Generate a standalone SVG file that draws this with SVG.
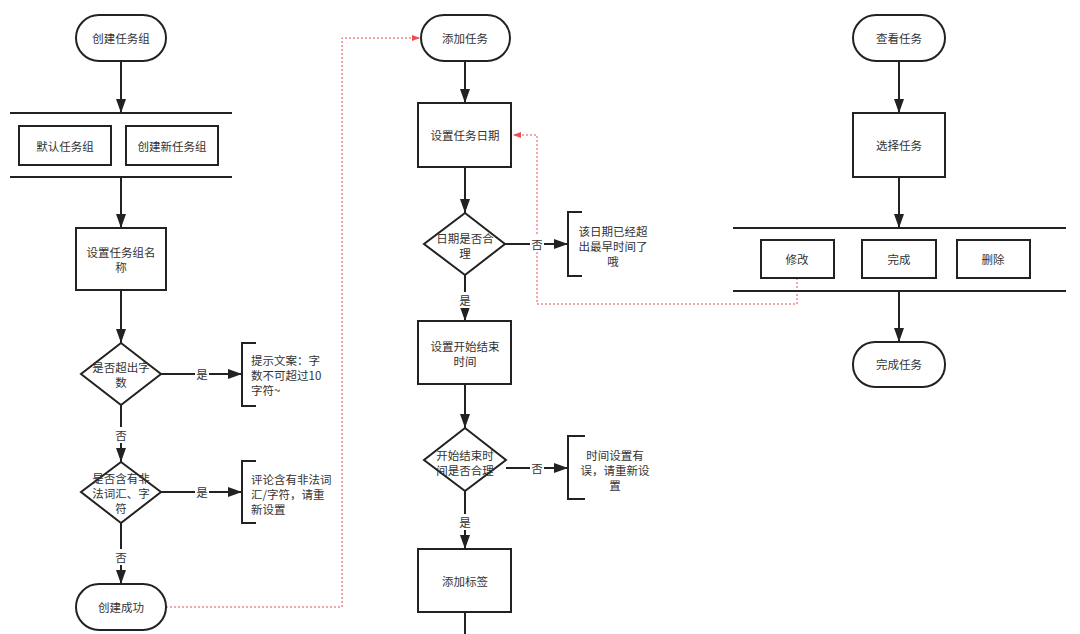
<svg xmlns="http://www.w3.org/2000/svg" width="1080" height="634" viewBox="0 0 1080 634">
<defs>
<marker id="ah" viewBox="0 0 14 10" refX="14" refY="5" markerWidth="14" markerHeight="10" markerUnits="userSpaceOnUse" orient="auto">
<path d="M0,0 L14,5 L0,10 z" fill="#222"/>
</marker>
<marker id="rh" viewBox="0 0 8 6" refX="8" refY="3" markerWidth="8" markerHeight="6" markerUnits="userSpaceOnUse" orient="auto">
<path d="M0,0 L8,3 L0,6 z" fill="#e8222a"/>
</marker>
<style>
.n{fill:#fff;stroke:#222;stroke-width:2}
.t{font-family:"Noto Sans CJK SC","Noto Sans",sans-serif;font-size:11.5px;fill:#333;text-anchor:middle;dominant-baseline:central}
.tl{font-family:"Noto Sans CJK SC","Noto Sans",sans-serif;font-size:11.5px;fill:#333;text-anchor:start;dominant-baseline:central}
.c{fill:none;stroke:#222;stroke-width:2}
.a{fill:none;stroke:#222;stroke-width:2;marker-end:url(#ah)}
.r{fill:none;stroke:#e8222a;stroke-width:1;stroke-dasharray:2 2;opacity:0.8}
.lb{fill:#fff}
.sep{stroke:#222;stroke-width:2}
</style>
</defs>
<rect width="1080" height="634" fill="#fff"/>

<g id="connectors">
<line class="a" x1="121" y1="61" x2="121" y2="113"/>
<line class="a" x1="121" y1="177" x2="121" y2="228"/>
<line class="a" x1="121" y1="290" x2="121" y2="343"/>
<line class="a" x1="161" y1="374" x2="242" y2="374"/>
<line class="a" x1="121" y1="405" x2="121" y2="462"/>
<line class="a" x1="161" y1="492" x2="242" y2="492"/>
<line class="a" x1="121" y1="523" x2="121" y2="584"/>
<path class="r" d="M166,607 H342 V38 H420" marker-end="url(#rh)"/>
<line class="a" x1="465" y1="61" x2="465" y2="103"/>
<line class="a" x1="465" y1="167" x2="465" y2="213"/>
<line class="a" x1="505" y1="244" x2="568" y2="244"/>
<line class="a" x1="465" y1="275" x2="465" y2="321"/>
<line class="a" x1="465" y1="384" x2="465" y2="428"/>
<line class="a" x1="506" y1="468" x2="568" y2="468"/>
<line class="a" x1="465" y1="491" x2="465" y2="549"/>
<line class="c" x1="465" y1="612" x2="465" y2="634"/>
<path class="r" d="M797,278 V304 H537 V135 H513" marker-end="url(#rh)"/>
<line class="a" x1="899" y1="61" x2="899" y2="113"/>
<line class="a" x1="899" y1="177" x2="899" y2="228"/>
<line class="a" x1="899" y1="291" x2="899" y2="342"/>
<!-- edge labels -->
<rect class="lb" x="195" y="366" width="14" height="16"/><text class="t" x="202" y="374">是</text>
<rect class="lb" x="114" y="427" width="14" height="16"/><text class="t" x="121" y="435">否</text>
<rect class="lb" x="195" y="484" width="14" height="16"/><text class="t" x="202" y="492">是</text>
<rect class="lb" x="114" y="549" width="14" height="16"/><text class="t" x="121" y="557">否</text>
<rect class="lb" x="530" y="236" width="14" height="16"/><text class="t" x="537" y="244">否</text>
<rect class="lb" x="458" y="292" width="14" height="16"/><text class="t" x="465" y="300">是</text>
<rect class="lb" x="530" y="460" width="14" height="16"/><text class="t" x="537" y="468">否</text>
<rect class="lb" x="458" y="514" width="14" height="16"/><text class="t" x="465" y="522">是</text>
</g>

<g id="n-create-group">
<rect class="n" x="76" y="15" width="90" height="46" rx="23"/>
<text class="t" x="121" y="38">创建任务组</text>
</g>
<g id="sep-left">
<line class="sep" x1="10" y1="113" x2="232" y2="113"/>
<line class="sep" x1="10" y1="177" x2="232" y2="177"/>
</g>
<g id="n-default-group">
<rect class="n" x="19" y="126" width="92" height="39"/>
<text class="t" x="65" y="146">默认任务组</text>
</g>
<g id="n-new-group">
<rect class="n" x="126" y="126" width="92" height="39"/>
<text class="t" x="172" y="146">创建新任务组</text>
</g>
<g id="n-set-name">
<rect class="n" x="76" y="228" width="90" height="62"/>
<text class="t" x="121" y="252">设置任务组名</text>
<text class="t" x="121" y="267">称</text>
</g>
<g id="n-over-length">
<path class="n" d="M121,343 L161,374 L121,405 L81,374 z"/>
<text class="t" x="121" y="367">是否超出字</text>
<text class="t" x="121" y="382">数</text>
</g>
<g id="n-tip-length">
<path class="c" d="M256,343 H242 V406 H256"/>
<text class="tl" x="251" y="360">提示文案：字</text>
<text class="tl" x="251" y="375">数不可超过10</text>
<text class="tl" x="251" y="390">字符~</text>
</g>
<g id="n-illegal">
<path class="n" d="M121,462 L161,492 L121,523 L81,492 z"/>
<text class="t" x="121" y="478">是否含有非</text>
<text class="t" x="121" y="493">法词汇、字</text>
<text class="t" x="121" y="508">符</text>
</g>
<g id="n-tip-illegal">
<path class="c" d="M256,461 H242 V523 H256"/>
<text class="tl" x="251" y="479">评论含有非法词</text>
<text class="tl" x="251" y="494">汇/字符，请重</text>
<text class="tl" x="251" y="509">新设置</text>
</g>
<g id="n-created">
<rect class="n" x="76" y="584" width="90" height="46" rx="23"/>
<text class="t" x="121" y="607">创建成功</text>
</g>

<g id="n-add-task">
<rect class="n" x="421" y="15" width="89" height="46" rx="23"/>
<text class="t" x="465" y="38">添加任务</text>
</g>
<g id="n-set-date">
<rect class="n" x="418" y="103" width="93" height="64"/>
<text class="t" x="465" y="135">设置任务日期</text>
</g>
<g id="n-date-ok">
<path class="n" d="M465,213 L505,244 L465,275 L424,244 z"/>
<text class="t" x="465" y="238">日期是否合</text>
<text class="t" x="465" y="253">理</text>
</g>
<g id="n-tip-date">
<path class="c" d="M582,212 H568 V276 H582"/>
<text class="t" x="613" y="231">该日期已经超</text>
<text class="t" x="613" y="246">出最早时间了</text>
<text class="t" x="613" y="261">哦</text>
</g>
<g id="n-set-time">
<rect class="n" x="418" y="321" width="93" height="63"/>
<text class="t" x="465" y="346">设置开始结束</text>
<text class="t" x="465" y="361">时间</text>
</g>
<g id="n-time-ok">
<path class="n" d="M465,428 L506,460 L465,491 L424,460 z"/>
<text class="t" x="465" y="455">开始结束时</text>
<text class="t" x="465" y="470">间是否合理</text>
</g>
<g id="n-tip-time">
<path class="c" d="M585,436 H568 V499 H585"/>
<text class="t" x="615" y="455">时间设置有</text>
<text class="t" x="615" y="470">误，请重新设</text>
<text class="t" x="615" y="485">置</text>
</g>
<g id="n-add-tag">
<rect class="n" x="418" y="549" width="93" height="63"/>
<text class="t" x="465" y="581">添加标签</text>
</g>

<g id="n-view-task">
<rect class="n" x="853" y="15" width="92" height="46" rx="23"/>
<text class="t" x="899" y="38">查看任务</text>
</g>
<g id="n-select-task">
<rect class="n" x="853" y="113" width="92" height="64"/>
<text class="t" x="899" y="145">选择任务</text>
</g>
<g id="sep-right">
<line class="sep" x1="733" y1="228" x2="1066" y2="228"/>
<line class="sep" x1="733" y1="291" x2="1066" y2="291"/>
</g>
<g id="n-modify">
<rect class="n" x="761" y="240" width="73" height="38"/>
<text class="t" x="797" y="259">修改</text>
</g>
<g id="n-complete">
<rect class="n" x="862" y="240" width="74" height="38"/>
<text class="t" x="899" y="259">完成</text>
</g>
<g id="n-delete">
<rect class="n" x="957" y="240" width="73" height="38"/>
<text class="t" x="993" y="259">删除</text>
</g>
<g id="n-done">
<rect class="n" x="853" y="342" width="92" height="45" rx="22"/>
<text class="t" x="899" y="364">完成任务</text>
</g>
</svg>
